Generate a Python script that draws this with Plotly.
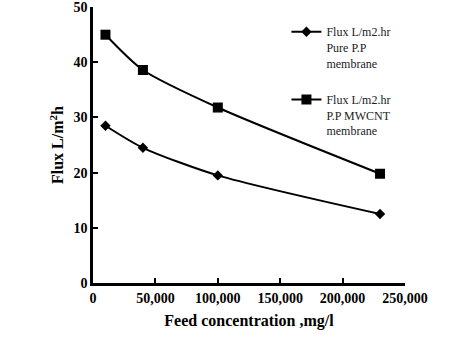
import plotly.graph_objects as go

feed = [10000, 40000, 100000, 230000]
flux_pure = [28.5, 24.5, 19.5, 12.5]
flux_mwcnt = [45.0, 38.6, 31.8, 19.8]
x_ticks = [0, 50000, 100000, 150000, 200000, 250000]
x_tick_labels = ["0", "50,000", "100,000", "150,000", "200,000", "250,000"]
y_ticks = [0, 10, 20, 30, 40, 50]

serif = "Liberation Serif, Times New Roman, serif"

fig = go.Figure()
fig.add_trace(go.Scatter(
    x=feed, y=flux_pure, mode="lines+markers",
    name="Flux L/m2.hr<br>Pure P.P<br>membrane",
    line=dict(color="black", width=2, shape="spline", smoothing=0.7),
    marker=dict(symbol="diamond", size=8, color="black"),
    legendgroup="a",
))
fig.add_trace(go.Scatter(
    x=feed, y=flux_mwcnt, mode="lines+markers",
    name="Flux L/m2.hr<br>P.P MWCNT<br>membrane",
    line=dict(color="black", width=2, shape="spline", smoothing=0.7),
    marker=dict(symbol="square", size=10, color="black"),
    legendgroup="b",
))

fig.update_layout(
    width=474, height=351,
    margin=dict(l=93, r=69, t=7, b=68),
    paper_bgcolor="white", plot_bgcolor="white",
    font=dict(family=serif, color="black"),
    showlegend=True,
    legend=dict(
        x=0.62, y=0.962, xanchor="left", yanchor="top",
        font=dict(family=serif, size=12, color="#222"),
        traceorder="grouped", tracegroupgap=18,
        itemwidth=30, bgcolor="rgba(0,0,0,0)",
        valign="top",
    ),
    xaxis=dict(
        range=[0, 250000], tickvals=x_ticks, ticktext=x_tick_labels,
        showgrid=False, zeroline=False, showline=True, linecolor="black", linewidth=2.5,
        ticks="inside", ticklen=5, tickwidth=2, tickcolor="black",
        tickfont=dict(family=serif, size=14, color="black", weight="bold"),
        title=dict(text="<b>Feed concentration ,mg/l</b>", font=dict(family=serif, size=16, color="black"), standoff=11),
        automargin=False, ticklabeloverflow="allow",
    ),
    yaxis=dict(
        range=[0, 50.02], tickvals=y_ticks,
        showgrid=False, zeroline=False, showline=True, linecolor="black", linewidth=2.5,
        ticks="inside", ticklen=5, tickwidth=2, tickcolor="black",
        tickfont=dict(family=serif, size=14, color="black", weight="bold"),
        title=dict(text="<b>Flux L/m<sup>2</sup>h</b>", font=dict(family=serif, size=16, color="black"), standoff=6),
        automargin=False, ticklabeloverflow="allow",
    ),
)

fig.write_html("out.html")
